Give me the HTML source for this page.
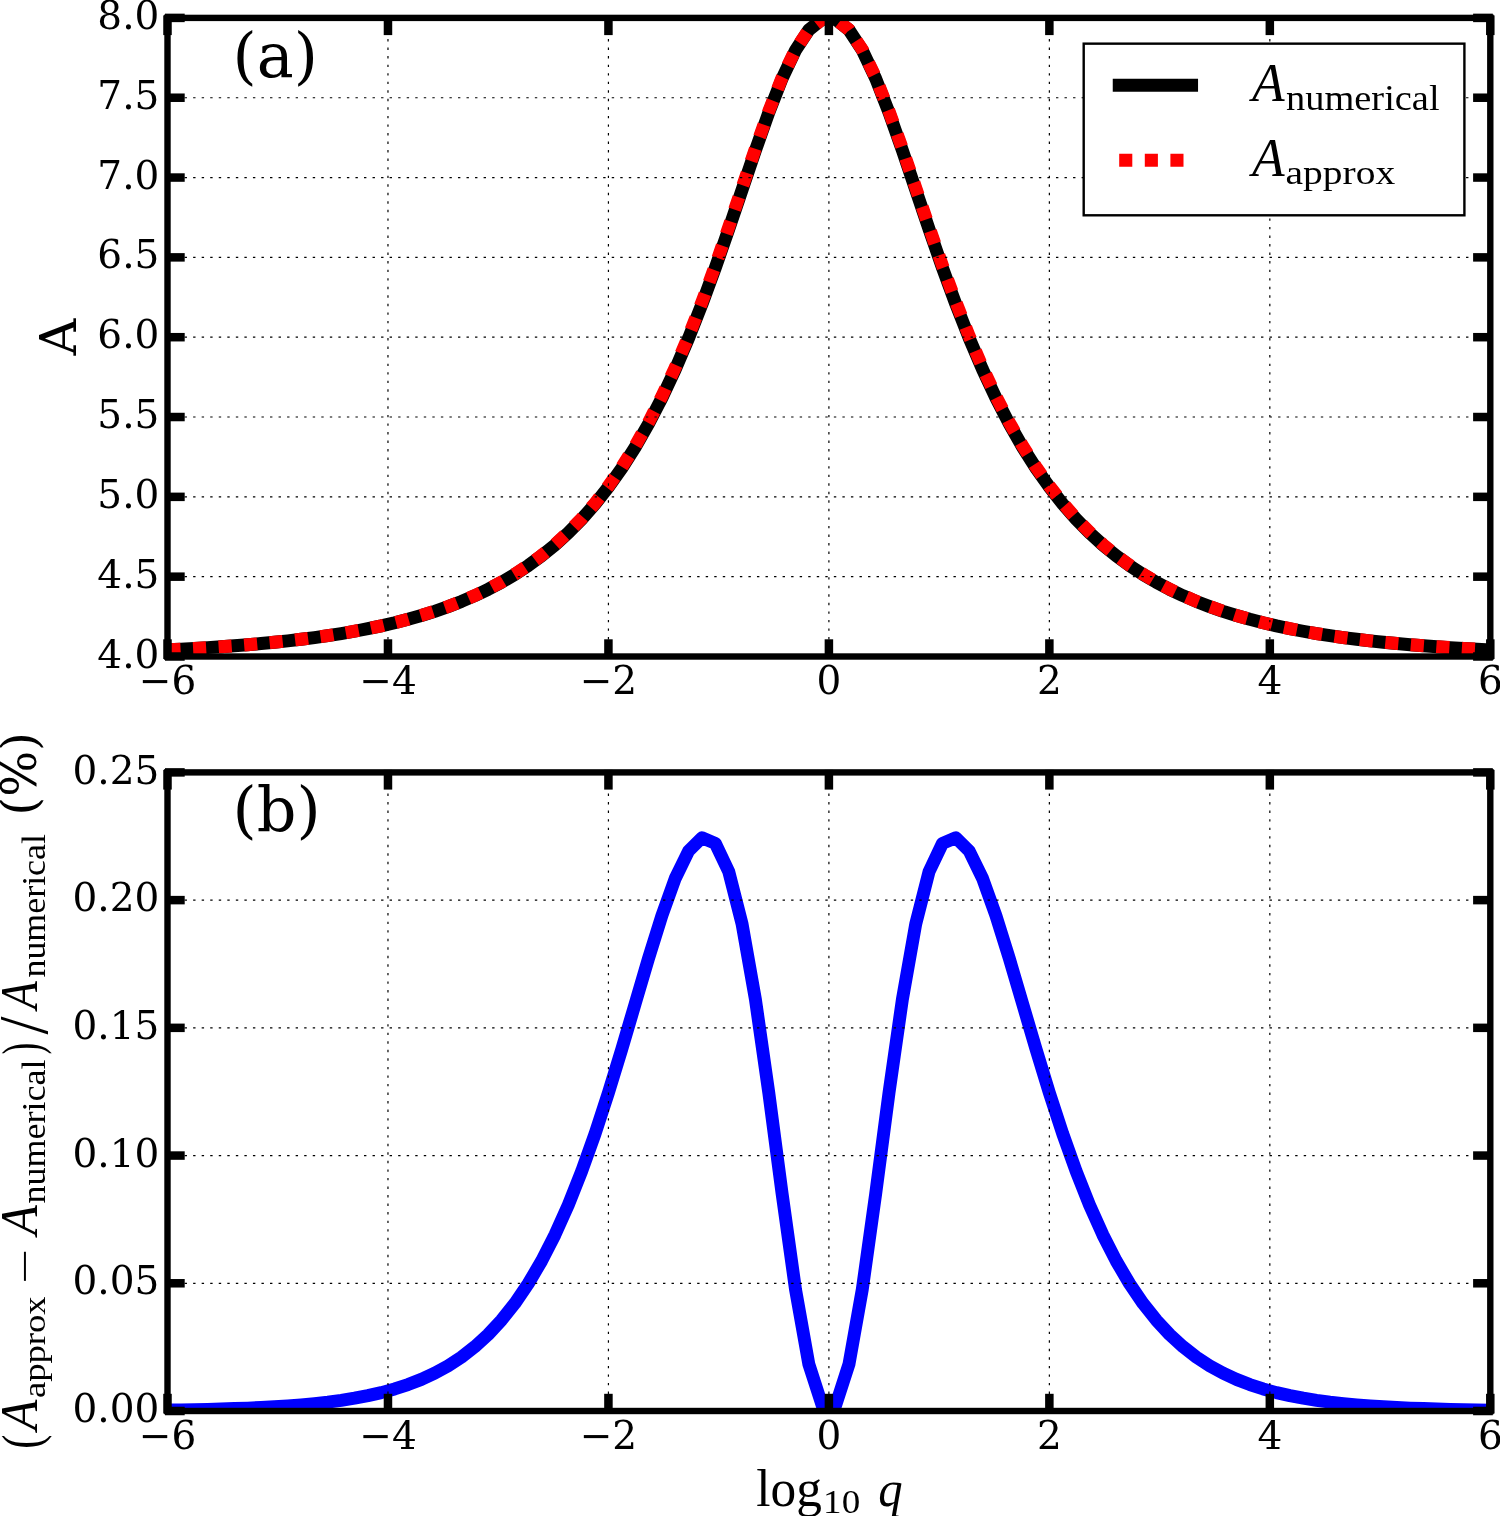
<!DOCTYPE html><html><head><meta charset="utf-8"><title>A vs log q</title>
<style>html,body{margin:0;padding:0;background:#fff;}svg{display:block;}</style></head><body>
<svg width="1500" height="1516" viewBox="0 0 1500 1516">
<rect x="0" y="0" width="1500" height="1516" fill="#fff"/>
<defs>
<clipPath id="ca"><rect x="167.5" y="17.9" width="1322.8" height="638.6"/></clipPath>
<clipPath id="cb"><rect x="167.5" y="772.4" width="1322.8" height="638.6"/></clipPath>
</defs>
<g clip-path="url(#ca)" fill="none" stroke-linejoin="round">
<path d="M167.5,649.8 L180.86,649.14 L194.22,648.41 L207.58,647.61 L220.95,646.74 L234.31,645.77 L247.67,644.71 L261.03,643.54 L274.39,642.25 L287.75,640.83 L301.12,639.27 L314.48,637.55 L327.84,635.65 L341.2,633.55 L354.56,631.24 L367.92,628.69 L381.29,625.88 L394.65,622.76 L408.01,619.32 L421.37,615.51 L434.73,611.3 L448.09,606.63 L461.46,601.45 L474.82,595.7 L488.18,589.32 L501.54,582.23 L514.9,574.34 L528.26,565.56 L541.63,555.78 L554.99,544.88 L568.35,532.71 L581.71,519.14 L595.07,503.99 L608.43,487.08 L621.79,468.22 L635.16,447.21 L648.52,423.85 L661.88,397.97 L675.24,369.43 L688.6,338.15 L701.96,304.19 L715.33,267.79 L728.69,229.42 L742.05,189.9 L755.41,150.43 L768.77,112.63 L782.13,78.49 L795.5,50.2 L808.86,29.89 L822.22,19.25 L835.58,19.25 L848.94,29.89 L862.3,50.2 L875.67,78.49 L889.03,112.63 L902.39,150.43 L915.75,189.9 L929.11,229.42 L942.47,267.79 L955.84,304.19 L969.2,338.15 L982.56,369.43 L995.92,397.97 L1009.28,423.85 L1022.64,447.21 L1036.01,468.22 L1049.37,487.08 L1062.73,503.99 L1076.09,519.14 L1089.45,532.71 L1102.81,544.88 L1116.17,555.78 L1129.54,565.56 L1142.9,574.34 L1156.26,582.23 L1169.62,589.32 L1182.98,595.7 L1196.34,601.45 L1209.71,606.63 L1223.07,611.3 L1236.43,615.51 L1249.79,619.32 L1263.15,622.76 L1276.51,625.88 L1289.88,628.69 L1303.24,631.24 L1316.6,633.55 L1329.96,635.65 L1343.32,637.55 L1356.68,639.27 L1370.05,640.83 L1383.41,642.25 L1396.77,643.54 L1410.13,644.71 L1423.49,645.77 L1436.85,646.74 L1450.22,647.61 L1463.58,648.41 L1476.94,649.14 L1490.3,649.8" stroke="#000" stroke-width="12.9" stroke-linecap="square"/>
<path d="M167.5,649.79 L180.86,649.13 L194.22,648.41 L207.58,647.61 L220.95,646.73 L234.31,645.76 L247.67,644.7 L261.03,643.53 L274.39,642.24 L287.75,640.82 L301.12,639.25 L314.48,637.53 L327.84,635.63 L341.2,633.53 L354.56,631.21 L367.92,628.65 L381.29,625.83 L394.65,622.71 L408.01,619.25 L421.37,615.43 L434.73,611.2 L448.09,606.51 L461.46,601.31 L474.82,595.53 L488.18,589.11 L501.54,581.98 L514.9,574.04 L528.26,565.2 L541.63,555.35 L554.99,544.36 L568.35,532.1 L581.71,518.41 L595.07,503.13 L608.43,486.08 L621.79,467.05 L635.16,445.86 L648.52,422.32 L661.88,396.24 L675.24,367.5 L688.6,336.06 L701.96,301.97 L715.33,265.51 L728.69,227.17 L742.05,187.79 L755.41,148.58 L768.77,111.16 L782.13,77.46 L795.5,49.61 L808.86,29.66 L822.22,19.23 L835.58,19.23 L848.94,29.66 L862.3,49.61 L875.67,77.46 L889.03,111.16 L902.39,148.58 L915.75,187.79 L929.11,227.17 L942.47,265.51 L955.84,301.97 L969.2,336.06 L982.56,367.5 L995.92,396.24 L1009.28,422.32 L1022.64,445.86 L1036.01,467.05 L1049.37,486.08 L1062.73,503.13 L1076.09,518.41 L1089.45,532.1 L1102.81,544.36 L1116.17,555.35 L1129.54,565.2 L1142.9,574.04 L1156.26,581.98 L1169.62,589.11 L1182.98,595.53 L1196.34,601.31 L1209.71,606.51 L1223.07,611.2 L1236.43,615.43 L1249.79,619.25 L1263.15,622.71 L1276.51,625.83 L1289.88,628.65 L1303.24,631.21 L1316.6,633.53 L1329.96,635.63 L1343.32,637.53 L1356.68,639.25 L1370.05,640.82 L1383.41,642.24 L1396.77,643.53 L1410.13,644.7 L1423.49,645.76 L1436.85,646.73 L1450.22,647.61 L1463.58,648.41 L1476.94,649.13 L1490.3,649.79" stroke="#f00" stroke-width="12.9" stroke-linecap="butt" stroke-dasharray="13.1 12.5"/>
</g>
<g clip-path="url(#cb)" fill="none" stroke-linejoin="round">
<path d="M167.5,1410.07 L180.86,1409.86 L194.22,1409.62 L207.58,1409.33 L220.95,1408.98 L234.31,1408.57 L247.67,1408.08 L261.03,1407.49 L274.39,1406.78 L287.75,1405.91 L301.12,1404.86 L314.48,1403.61 L327.84,1402.12 L341.2,1400.33 L354.56,1398.2 L367.92,1395.65 L381.29,1392.6 L394.65,1388.95 L408.01,1384.58 L421.37,1379.38 L434.73,1373.18 L448.09,1365.81 L461.46,1357.07 L474.82,1346.71 L488.18,1334.49 L501.54,1320.11 L514.9,1303.27 L528.26,1283.64 L541.63,1260.88 L554.99,1234.7 L568.35,1204.84 L581.71,1171.17 L595.07,1133.72 L608.43,1092.78 L621.79,1049.12 L635.16,1003.76 L648.52,958.41 L661.88,915.56 L675.24,878.43 L688.6,851.01 L701.96,837.76 L715.33,843.38 L728.69,871.43 L742.05,923.82 L755.41,999.34 L768.77,1092.69 L782.13,1193.87 L795.5,1289.39 L808.86,1364.32 L822.22,1405.63 L835.58,1405.63 L848.94,1364.32 L862.3,1289.39 L875.67,1193.87 L889.03,1092.69 L902.39,999.34 L915.75,923.82 L929.11,871.43 L942.47,843.38 L955.84,837.76 L969.2,851.01 L982.56,878.43 L995.92,915.56 L1009.28,958.41 L1022.64,1003.76 L1036.01,1049.12 L1049.37,1092.78 L1062.73,1133.72 L1076.09,1171.17 L1089.45,1204.84 L1102.81,1234.7 L1116.17,1260.88 L1129.54,1283.64 L1142.9,1303.27 L1156.26,1320.11 L1169.62,1334.49 L1182.98,1346.71 L1196.34,1357.07 L1209.71,1365.81 L1223.07,1373.18 L1236.43,1379.38 L1249.79,1384.58 L1263.15,1388.95 L1276.51,1392.6 L1289.88,1395.65 L1303.24,1398.2 L1316.6,1400.33 L1329.96,1402.12 L1343.32,1403.61 L1356.68,1404.86 L1370.05,1405.91 L1383.41,1406.78 L1396.77,1407.49 L1410.13,1408.08 L1423.49,1408.57 L1436.85,1408.98 L1450.22,1409.33 L1463.58,1409.62 L1476.94,1409.86 L1490.3,1410.07" stroke="#00f" stroke-width="12.9" stroke-linecap="square"/>
</g>
<path d="M387.97,656.5 L387.97,17.9 M608.43,656.5 L608.43,17.9 M828.9,656.5 L828.9,17.9 M1049.37,656.5 L1049.37,17.9 M1269.83,656.5 L1269.83,17.9 M167.5,576.67 L1490.3,576.67 M167.5,496.85 L1490.3,496.85 M167.5,417.02 L1490.3,417.02 M167.5,337.2 L1490.3,337.2 M167.5,257.38 L1490.3,257.38 M167.5,177.55 L1490.3,177.55 M167.5,97.73 L1490.3,97.73 M387.97,1411 L387.97,772.4 M608.43,1411 L608.43,772.4 M828.9,1411 L828.9,772.4 M1049.37,1411 L1049.37,772.4 M1269.83,1411 L1269.83,772.4 M167.5,1283.28 L1490.3,1283.28 M167.5,1155.56 L1490.3,1155.56 M167.5,1027.84 L1490.3,1027.84 M167.5,900.12 L1490.3,900.12" fill="none" stroke="#000" stroke-width="1.2" stroke-dasharray="2.4 6.143"/>
<g fill="#000">
<rect x="164.3" y="14.7" width="1329.2" height="6.4"/>
<rect x="164.3" y="653.3" width="1329.2" height="6.4"/>
<rect x="164.3" y="14.7" width="6.4" height="645"/>
<rect x="1487.1" y="14.7" width="6.4" height="645"/>
<rect x="163.25" y="639.3" width="8.5" height="19.7"/>
<rect x="163.25" y="15.4" width="8.5" height="19.7"/>
<rect x="383.72" y="639.3" width="8.5" height="19.7"/>
<rect x="383.72" y="15.4" width="8.5" height="19.7"/>
<rect x="604.18" y="639.3" width="8.5" height="19.7"/>
<rect x="604.18" y="15.4" width="8.5" height="19.7"/>
<rect x="824.65" y="639.3" width="8.5" height="19.7"/>
<rect x="824.65" y="15.4" width="8.5" height="19.7"/>
<rect x="1045.12" y="639.3" width="8.5" height="19.7"/>
<rect x="1045.12" y="15.4" width="8.5" height="19.7"/>
<rect x="1265.58" y="639.3" width="8.5" height="19.7"/>
<rect x="1265.58" y="15.4" width="8.5" height="19.7"/>
<rect x="1486.05" y="639.3" width="8.5" height="19.7"/>
<rect x="1486.05" y="15.4" width="8.5" height="19.7"/>
<rect x="165" y="652.25" width="19.7" height="8.5"/>
<rect x="1473.1" y="652.25" width="19.7" height="8.5"/>
<rect x="165" y="572.42" width="19.7" height="8.5"/>
<rect x="1473.1" y="572.42" width="19.7" height="8.5"/>
<rect x="165" y="492.6" width="19.7" height="8.5"/>
<rect x="1473.1" y="492.6" width="19.7" height="8.5"/>
<rect x="165" y="412.77" width="19.7" height="8.5"/>
<rect x="1473.1" y="412.77" width="19.7" height="8.5"/>
<rect x="165" y="332.95" width="19.7" height="8.5"/>
<rect x="1473.1" y="332.95" width="19.7" height="8.5"/>
<rect x="165" y="253.12" width="19.7" height="8.5"/>
<rect x="1473.1" y="253.12" width="19.7" height="8.5"/>
<rect x="165" y="173.3" width="19.7" height="8.5"/>
<rect x="1473.1" y="173.3" width="19.7" height="8.5"/>
<rect x="165" y="93.48" width="19.7" height="8.5"/>
<rect x="1473.1" y="93.48" width="19.7" height="8.5"/>
<rect x="165" y="13.65" width="19.7" height="8.5"/>
<rect x="1473.1" y="13.65" width="19.7" height="8.5"/>
<rect x="164.3" y="769.2" width="1329.2" height="6.4"/>
<rect x="164.3" y="1407.8" width="1329.2" height="6.4"/>
<rect x="164.3" y="769.2" width="6.4" height="645"/>
<rect x="1487.1" y="769.2" width="6.4" height="645"/>
<rect x="163.25" y="1393.8" width="8.5" height="19.7"/>
<rect x="163.25" y="769.9" width="8.5" height="19.7"/>
<rect x="383.72" y="1393.8" width="8.5" height="19.7"/>
<rect x="383.72" y="769.9" width="8.5" height="19.7"/>
<rect x="604.18" y="1393.8" width="8.5" height="19.7"/>
<rect x="604.18" y="769.9" width="8.5" height="19.7"/>
<rect x="824.65" y="1393.8" width="8.5" height="19.7"/>
<rect x="824.65" y="769.9" width="8.5" height="19.7"/>
<rect x="1045.12" y="1393.8" width="8.5" height="19.7"/>
<rect x="1045.12" y="769.9" width="8.5" height="19.7"/>
<rect x="1265.58" y="1393.8" width="8.5" height="19.7"/>
<rect x="1265.58" y="769.9" width="8.5" height="19.7"/>
<rect x="1486.05" y="1393.8" width="8.5" height="19.7"/>
<rect x="1486.05" y="769.9" width="8.5" height="19.7"/>
<rect x="165" y="1406.75" width="19.7" height="8.5"/>
<rect x="1473.1" y="1406.75" width="19.7" height="8.5"/>
<rect x="165" y="1279.03" width="19.7" height="8.5"/>
<rect x="1473.1" y="1279.03" width="19.7" height="8.5"/>
<rect x="165" y="1151.31" width="19.7" height="8.5"/>
<rect x="1473.1" y="1151.31" width="19.7" height="8.5"/>
<rect x="165" y="1023.59" width="19.7" height="8.5"/>
<rect x="1473.1" y="1023.59" width="19.7" height="8.5"/>
<rect x="165" y="895.87" width="19.7" height="8.5"/>
<rect x="1473.1" y="895.87" width="19.7" height="8.5"/>
<rect x="165" y="768.15" width="19.7" height="8.5"/>
<rect x="1473.1" y="768.15" width="19.7" height="8.5"/>
</g>
<g font-family="'DejaVu Serif', 'Liberation Serif', serif" font-size="39" fill="#000">
<text x="159.35" y="667.6" text-anchor="end">4.0</text>
<text x="159.35" y="587.77" text-anchor="end">4.5</text>
<text x="159.35" y="507.95" text-anchor="end">5.0</text>
<text x="159.35" y="428.12" text-anchor="end">5.5</text>
<text x="159.35" y="348.3" text-anchor="end">6.0</text>
<text x="159.35" y="268.48" text-anchor="end">6.5</text>
<text x="159.35" y="188.65" text-anchor="end">7.0</text>
<text x="159.35" y="108.83" text-anchor="end">7.5</text>
<text x="159.35" y="29" text-anchor="end">8.0</text>
<text x="159.35" y="1422.1" text-anchor="end">0.00</text>
<text x="159.35" y="1294.38" text-anchor="end">0.05</text>
<text x="159.35" y="1166.66" text-anchor="end">0.10</text>
<text x="159.35" y="1038.94" text-anchor="end">0.15</text>
<text x="159.35" y="911.22" text-anchor="end">0.20</text>
<text x="159.35" y="783.5" text-anchor="end">0.25</text>
<text x="167.5" y="694.3" text-anchor="middle">−6</text>
<text x="167.5" y="1449.1" text-anchor="middle">−6</text>
<text x="387.97" y="694.3" text-anchor="middle">−4</text>
<text x="387.97" y="1449.1" text-anchor="middle">−4</text>
<text x="608.43" y="694.3" text-anchor="middle">−2</text>
<text x="608.43" y="1449.1" text-anchor="middle">−2</text>
<text x="828.9" y="694.3" text-anchor="middle">0</text>
<text x="828.9" y="1449.1" text-anchor="middle">0</text>
<text x="1049.37" y="694.3" text-anchor="middle">2</text>
<text x="1049.37" y="1449.1" text-anchor="middle">2</text>
<text x="1269.83" y="694.3" text-anchor="middle">4</text>
<text x="1269.83" y="1449.1" text-anchor="middle">4</text>
<text x="1490.3" y="694.3" text-anchor="middle">6</text>
<text x="1490.3" y="1449.1" text-anchor="middle">6</text>
</g>
<text x="232.5" y="76.9" font-family="'DejaVu Serif', 'Liberation Serif', serif" font-size="62">(a)</text>
<text x="232.5" y="831.3" font-family="'DejaVu Serif', 'Liberation Serif', serif" font-size="62">(b)</text>
<text transform="translate(76.4,337.2) rotate(-90)" text-anchor="middle" font-family="'DejaVu Serif', 'Liberation Serif', serif" font-size="51">A</text>
<rect x="1083.7" y="43.65" width="380.7" height="171.65" fill="#fff" stroke="#000" stroke-width="2.4"/>
<path d="M1119.2,85.2 L1191.6,85.2" stroke="#000" stroke-width="12.9" stroke-linecap="square" fill="none"/>
<path d="M1119.2,160.2 L1191.6,160.2" stroke="#f00" stroke-width="12.9" stroke-linecap="butt" stroke-dasharray="13.1 12.5" fill="none"/>
<g fill="#000" style="font-kerning:none">
<text x="1252.02" y="101.2" font-family="'Liberation Serif', serif" font-size="55.59" font-style="italic" textLength="32.6" lengthAdjust="spacingAndGlyphs">A</text>
<text x="1286.02" y="109.6" font-family="'Liberation Serif', serif" font-size="35.31" textLength="153.55" lengthAdjust="spacingAndGlyphs">numerical</text>
<text x="1252.02" y="176.2" font-family="'Liberation Serif', serif" font-size="55.59" font-style="italic" textLength="32.6" lengthAdjust="spacingAndGlyphs">A</text>
<text x="1285.51" y="184.29" font-family="'Liberation Serif', serif" font-size="34.35" textLength="109.67" lengthAdjust="spacingAndGlyphs">approx</text>
<text x="756.37" y="1505.8" font-family="'Liberation Serif', serif" font-size="51.88" textLength="65.61" lengthAdjust="spacingAndGlyphs">log</text>
<text x="823.14" y="1513.26" font-family="'Liberation Serif', serif" font-size="34.68" textLength="37.07" lengthAdjust="spacingAndGlyphs">10</text>
<text x="878.18" y="1506.17" font-family="'Liberation Serif', serif" font-size="50.44" font-style="italic" textLength="24.36" lengthAdjust="spacingAndGlyphs">q</text>
</g>
<g transform="rotate(-90)" fill="#000" style="font-kerning:none">
<text x="-1448.65" y="39.65" font-family="'Liberation Serif', serif" font-size="54.26" textLength="14" lengthAdjust="spacingAndGlyphs">(</text>
<text x="-1430.25" y="36.6" font-family="'Liberation Serif', serif" font-size="52.41" font-style="italic" textLength="30.68" lengthAdjust="spacingAndGlyphs">A</text>
<text x="-1398.09" y="44.63" font-family="'Liberation Serif', serif" font-size="30.84" textLength="101.74" lengthAdjust="spacingAndGlyphs">approx</text>
<text x="-1284.11" y="37.58" font-family="'Liberation Serif', serif" font-size="40" textLength="35.27" lengthAdjust="spacingAndGlyphs">−</text>
<text x="-1235.02" y="36.6" font-family="'Liberation Serif', serif" font-size="52.41" font-style="italic" textLength="29.95" lengthAdjust="spacingAndGlyphs">A</text>
<text x="-1203.63" y="44.68" font-family="'Liberation Serif', serif" font-size="33.11" textLength="144.15" lengthAdjust="spacingAndGlyphs">numerical</text>
<text x="-1054.53" y="39.67" font-family="'Liberation Serif', serif" font-size="54.15" textLength="11.67" lengthAdjust="spacingAndGlyphs">)</text>
<text x="-1034.4" y="47.31" font-family="'Liberation Serif', serif" font-size="70.26" textLength="18" lengthAdjust="spacingAndGlyphs">/</text>
<text x="-1009.18" y="36.6" font-family="'Liberation Serif', serif" font-size="52.41" font-style="italic" textLength="28.12" lengthAdjust="spacingAndGlyphs">A</text>
<text x="-977.52" y="44.68" font-family="'Liberation Serif', serif" font-size="33.11" textLength="143.44" lengthAdjust="spacingAndGlyphs">numerical</text>
<text x="-815.51" y="36.4" font-family="'DejaVu Serif', 'Liberation Serif', serif" font-size="48.17" textLength="83.43" lengthAdjust="spacingAndGlyphs">(%)</text>
</g>
</svg></body></html>
